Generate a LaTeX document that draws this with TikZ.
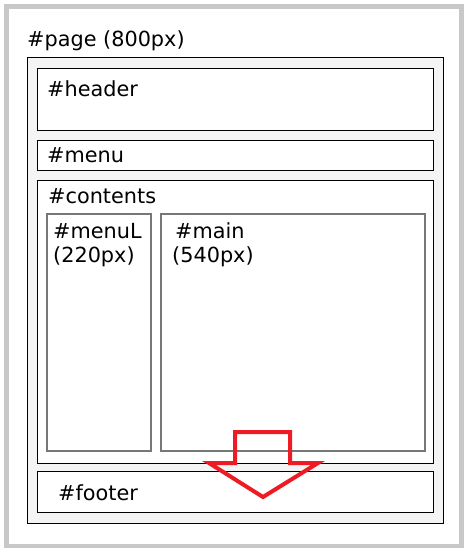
\documentclass[tikz,border=0pt]{standalone}
\usepackage{fontspec}
\setmainfont{DejaVu Sans}
\definecolor{framegray}{HTML}{C8C8C8}
\definecolor{pagegray}{HTML}{F4F4F4}
\definecolor{boxgray}{HTML}{777777}
\definecolor{arrowred}{HTML}{ED1C24}
\usetikzlibrary{positioning}
\begin{document}
\begin{tikzpicture}[x=1pt, y=-1pt,
    box/.style={draw=black, fill=white, line width=1pt, inner sep=0pt, anchor=north west},
    colbox/.style={box, draw=boxgray, line width=1.8pt},
    lbl/.style={anchor=base west, inner sep=0pt, font=\fontsize{20.8}{24.5}\selectfont, align=left}]
  \useasboundingbox (0,0) rectangle (463,548);
  % Outer frame
  \draw[framegray, line width=4.5pt] (6.5,6.5) rectangle (461.5,546.5);
  \node[lbl] (pagelbl) at (27,47) {\#page (800px)};
  % Page
  \node[box, fill=pagegray, minimum width=416pt, minimum height=466pt] (page) at (27,57) {};
  % Header and menu
  \node[box, minimum width=396pt, minimum height=62pt] (header) at (37,68) {};
  \node[lbl] (headerlbl) at (47,97) {\#header};
  \node[box, minimum width=396pt, minimum height=30pt] (menu) at (37,140) {};
  \node[lbl] (menulbl) at (47,162) {\#menu};
  % Contents
  \node[box, minimum width=396pt, minimum height=283pt] (contents) at (37,180) {};
  \node[lbl] (contentslbl) at (48,203) {\#contents};
  \node[colbox, minimum width=104pt, minimum height=237pt] (menuL) at (46,213) {};
  \node[lbl] (menuLlbl) at (53,262.5) {\#menuL\\(220px)};
  \node[colbox, minimum width=264pt, minimum height=237pt] (main) at (160,213) {};
  \node[lbl] (mainlbl) at (172,262.5) {\hspace{3pt}\#main\\(540px)};
  % Footer
  \node[box, minimum width=396pt, minimum height=41pt] (footer) at (37,471) {};
  \node[lbl] (footerlbl) at (58,500) {\#footer};
  % Arrow down
  \draw[arrowred, line width=4pt] (235,432) -- (290,432) -- (290,463) -- (318,463)
    -- (263,497) -- (209,463) -- (235,463) -- cycle;
\end{tikzpicture}
\end{document}
